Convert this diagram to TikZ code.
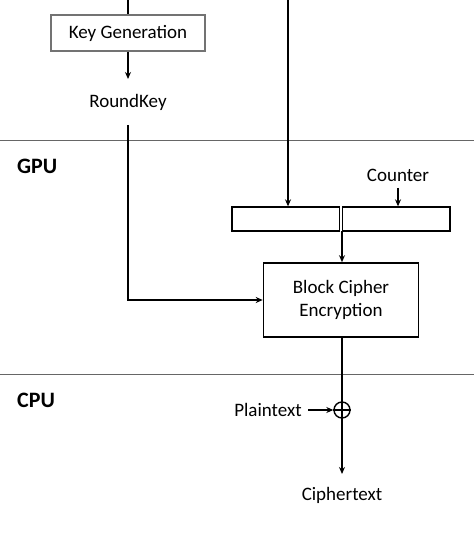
\documentclass[tikz,border=0pt]{standalone}
\usepackage{fontspec}
\setmainfont{Carlito}
\usetikzlibrary{arrows.meta}
\begin{document}
\begin{tikzpicture}[x=1pt,y=-1pt,
  every node/.style={font=\fontsize{19}{23}\selectfont, inner sep=0pt},
  conn/.style={line width=1.6pt, -{Stealth[length=7pt,width=6pt]}},
  plain/.style={line width=1.6pt},
  sep/.style={line width=1pt, draw=black!60},
  lbl/.style={font=\fontsize{22}{26}\selectfont\bfseries}]
\useasboundingbox (0,0) rectangle (474,537);
% separators
\coordinate (s1l) at (0,141); \coordinate (s1r) at (474,141);
\coordinate (s2l) at (0,374); \coordinate (s2r) at (474,374);
\draw[sep] (s1l) -- (s1r);
\draw[sep] (s2l) -- (s2r);
\node[lbl, anchor=west] (gpu) at (17,166) {GPU};
\node[lbl, anchor=west] (cpu) at (17,400) {CPU};
% key generation
\node[draw=black!55, line width=1.2pt, minimum width=154pt, minimum height=36pt] (kg) at (128,33) {Key Generation};
\coordinate (ktop) at (128,0);
\draw[plain] (ktop) -- (kg.north);
\node (rk) at (128,102) {RoundKey};
\coordinate (rkdst) at (128,79);
\draw[conn] (kg.south) -- (rkdst);
% block cipher
\node[draw, line width=1.6pt, minimum width=155pt, minimum height=74pt, align=center] (bc) at (341,300) {Block Cipher\\Encryption};
\coordinate (rks) at (128,125);
\draw[conn] (rks) |- (bc.west);
% counter bar
\node[draw, line width=1.3pt, minimum width=107.5pt, minimum height=24pt] (barl) at (285.75,219) {};
\node[draw, line width=1.3pt, minimum width=107.5pt, minimum height=24pt] (barr) at (396.25,219) {};
\coordinate (ntop) at (288,0);
\draw[conn] (ntop) -- (barl.north -| ntop);
\node (ctr) at (398,175) {Counter};
\coordinate (csrc) at (398,188);
\draw[conn] (csrc) -- (barr.north -| csrc);
\coordinate (bbot) at (342,231);
\draw[conn] (bbot) -- (bc.north -| bbot);
% xor
\node[draw, circle, line width=1.4pt, minimum size=16pt] (xor) at (342,410) {};
\draw[line width=1.2pt] (xor.north) -- (xor.south) (xor.west) -- (xor.east);
\draw[plain] (bc.south -| xor) -- (xor.north);
\node (pt) at (268,410) {Plaintext};
\coordinate (psrc) at (308,410);
\draw[line width=1.3pt, -{Stealth[length=7pt,width=6pt]}] (psrc) -- (xor.west);
\coordinate (cdst) at (342,474);
\draw[conn] (xor.south) -- (cdst);
\node (ct) at (342,495) {Ciphertext};
\end{tikzpicture}
\end{document}
